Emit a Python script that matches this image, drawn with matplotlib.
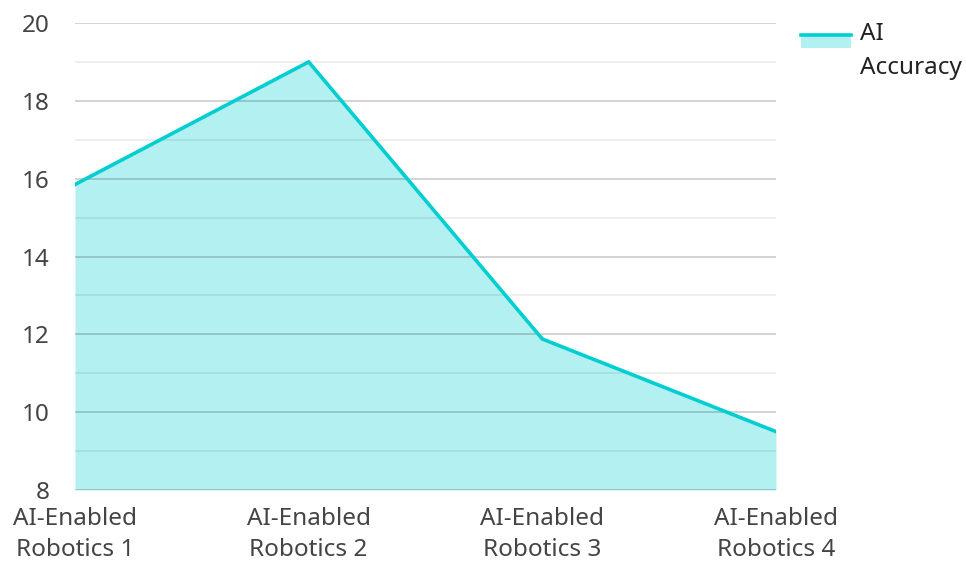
import matplotlib.pyplot as plt
from matplotlib.patches import Rectangle
from matplotlib.lines import Line2D

plt.rcParams['font.family'] = ['Noto Sans', 'DejaVu Sans']

# ── Daten ───────────────────────────────────────────────────────────────
categories = ["AI-Enabled\nRobotics 1", "AI-Enabled\nRobotics 2",
              "AI-Enabled\nRobotics 3", "AI-Enabled\nRobotics 4"]
accuracy = [15.85, 19.0, 11.88, 9.5]
series_name = "AI\nAccuracy"
y_ticks = [8, 10, 12, 14, 16, 18, 20]

LINE = "#00CED1"
TEXT = "#444444"
FS = 17.5

W, H = 966, 562
fig = plt.figure(figsize=(W / 100, H / 100), dpi=100)
ax = fig.add_axes([75 / W, 1 - 490 / H, 701 / W, 467 / H])

x = list(range(len(categories)))
ax.fill_between(x, accuracy, 8, color=LINE, alpha=0.3, linewidth=0, zorder=1)
ax.plot(x, accuracy, color=LINE, linewidth=2.6, zorder=3,
        solid_joinstyle="miter", label=series_name)

ax.set_xlim(0, len(categories) - 1)
ax.set_ylim(8, 20)
ax.set_yticks(y_ticks)
ax.set_yticks([v + 1 for v in y_ticks[:-1]], minor=True)
ax.set_xticks(x)
ax.set_xticklabels(categories, linespacing=1.38)

ax.grid(True, axis="y", which="major", color="black", alpha=0.2, linewidth=1.2, zorder=2)
ax.grid(True, axis="y", which="minor", color="black", alpha=0.08, linewidth=1.2, zorder=2)
ax.set_axisbelow(False)

for s in ax.spines.values():
    s.set_visible(False)
ax.tick_params(axis="both", which="both", length=0, labelsize=FS, colors=TEXT)
ax.tick_params(axis="y", pad=18)
ax.tick_params(axis="x", pad=12)

# Legende: Fläche mit Linie an der Oberkante, Text daneben
fig.add_artist(Rectangle((801 / W, 1 - 48 / H), 50 / W, 13 / H, transform=fig.transFigure,
                         facecolor=LINE, alpha=0.3, edgecolor="none"))
fig.add_artist(Line2D([801 / W, 851 / W], [1 - 35 / H] * 2, transform=fig.transFigure,
                      color=LINE, linewidth=2.6))
fig.text(860 / W, 1 - 22 / H, series_name, fontsize=FS, color="#222222",
         va="top", ha="left", linespacing=1.55)

fig.savefig("out.png", dpi=100)
